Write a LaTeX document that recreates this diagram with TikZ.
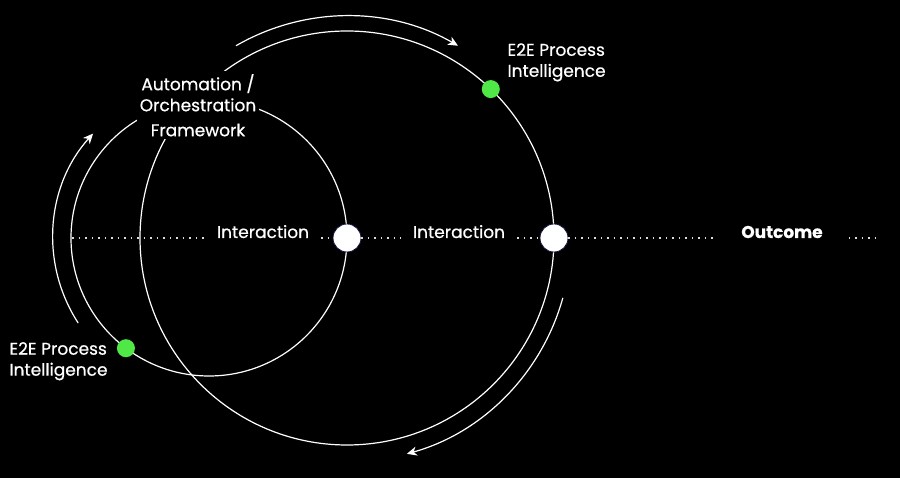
\documentclass[tikz,border=0pt]{standalone}
\usepackage{fontspec}
\setmainfont{Poppins}[FakeBold=0.6]
\usetikzlibrary{arrows.meta,positioning}
\definecolor{pigreen}{RGB}{80,232,70}
\definecolor{navyrim}{RGB}{16,18,64}
\definecolor{dotgrey}{RGB}{220,220,220}
\tikzset{
  ring/.style={white, line width=1.2pt},
  flow/.style={white, line width=1.2pt, -{Stealth[length=10pt,width=9pt,inset=3pt]}},
  hub/.style={circle, fill=white, draw=navyrim, line width=0.8pt, minimum size=28pt, inner sep=0pt},
  probe/.style={circle, fill=pigreen, minimum size=18pt, inner sep=0pt},
  lbl/.style={text=white, font=\fontsize{17}{21}\selectfont, inner sep=1pt},
  axislbl/.style={lbl, anchor=base, inner xsep=12pt},
  dots/.style={dotgrey, line width=1.5pt, dash pattern=on 1.5pt off 5pt},
}
\begin{document}
\begin{tikzpicture}[x=1pt,y=1pt]
  \fill[black] (0,0) rectangle (900,478);
  \coordinate (S) at (209,240);
  \coordinate (L) at (347,240);
  \draw[ring] (S) circle[radius=138];
  \draw[ring] (L) circle[radius=207];
  \draw[flow] ([shift={(120:222)}]L) arc[start angle=120, end angle=60, radius=222];
  \draw[flow] ([shift={(-15.5:224)}]L) arc[start angle=-15.5, end angle=-74.5, radius=224];
  \draw[flow] ([shift={(213:156)}]S) arc[start angle=213, end angle=138, radius=156];

  \node[lbl, fill=black, inner sep=3pt, align=center, anchor=north] (frame) at (198,407)
    {Automation /\\Orchestration\\[4pt]Framework};

  \node[hub] (A) at (347,240) {};
  \node[hub] (B) at (554,240) {};
  \node[probe] (gtop) at ([shift={(46:207)}]L) {};
  \node[probe] (gbot) at ([shift={(233:138)}]S) {};

  \node[lbl, align=left, above right=0pt and 9pt of gtop] (pitop) {E2E Process\\Intelligence};
  \node[lbl, align=left, left=8pt of gbot, yshift=-13pt] (pibot) {E2E Process\\Intelligence};

  \node[axislbl] (int1) at (263,240) {Interaction};
  \node[axislbl] (int2) at (459,240) {Interaction};
  \node[axislbl, inner xsep=26pt, font=\fontsize{17}{21}\selectfont\bfseries] (out) at (782,240) {Outcome};
  \coordinate (dl) at (72,240);
  \coordinate (dr) at (878,240);

  \draw[dots] (dl) -- (int1.base west);
  \draw[dots] (int1.base east) -- (A);
  \draw[dots] (A) -- (int2.base west);
  \draw[dots] (int2.base east) -- (B);
  \draw[dots] (B) -- (out.base west);
  \draw[dots] (out.base east) -- (dr);
\end{tikzpicture}
\end{document}
